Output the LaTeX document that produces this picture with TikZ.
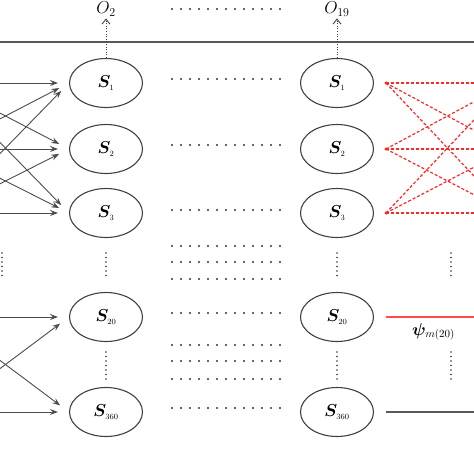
\documentclass[tikz,border=0pt]{standalone}
\usepackage{bm}
\usetikzlibrary{arrows.meta,calc,shapes.geometric}
\begin{document}
\begin{tikzpicture}[x=1pt,y=-1pt,
  state/.style={draw=black!75,line width=1.1pt,ellipse,minimum width=73pt,minimum height=49pt,inner sep=0pt,font=\fontsize{17}{17}\selectfont},
  obs/.style={font=\fontsize{18}{18}\selectfont,inner sep=1pt},
  obsarrow/.style={draw=black!75,line width=0.9pt,dash pattern=on 1pt off 1.6pt,-{Straight Barb[length=5pt,width=8pt,line width=0.9pt]}},
  inarrow/.style={draw=black!70,line width=0.9pt,-{Stealth[length=8pt,width=6pt,inset=3pt]},shorten >=11pt},
  redlink/.style={draw=red!85,line width=1.2pt,dash pattern=on 3pt off 2pt},
  reddot/.style={circle,fill=red!85,inner sep=0pt,minimum size=3.5pt},
  hdots/.style={draw=black!80,line width=2.2pt,line cap=round,dash pattern=on 0pt off 9pt},
  vdots/.style={draw=black!80,line width=1.6pt,line cap=round,dash pattern=on 0pt off 4.5pt},
  plain/.style={draw=black!65,line width=1.1pt}]
\useasboundingbox (0,0) rectangle (474,474);
\begin{scope}
\clip (0,0) rectangle (474,474);
% top separator
\coordinate (tl) at (0,42);
\coordinate (tr) at (474,42);
\draw[plain] (tl) -- (tr);
% states
\foreach \c/\x in {a/106,b/337}{
  \node[state] (\c1) at (\x,83) {$\bm{S}_{\scriptscriptstyle 1}$};
  \node[state] (\c2) at (\x,149) {$\bm{S}_{\scriptscriptstyle 2}$};
  \node[state] (\c3) at (\x,213) {$\bm{S}_{\scriptscriptstyle 3}$};
  \node[state] (\c20) at (\x,317) {$\bm{S}_{\scriptscriptstyle 20}$};
  \node[state] (\c360) at (\x,412) {$\bm{S}_{\scriptscriptstyle 360}$};
}
% observations
\node[obs] (o2) at (106,9) {$O_2$};
\node[obs] (o19) at (337,9) {$O_{19}$};
\draw[obsarrow] (a1.north) -- ($(o2.south)+(0,1)$);
\draw[obsarrow] (b1.north) -- ($(o19.south)+(0,1)$);
% previous column sources (off picture)
\foreach \n/\y in {1/83,2/149,3/213,20/317,360/412}{
  \coordinate (p\n) at (-58,\y);
  \coordinate (r\n) at (386,\y);
  \coordinate (q\n) at (509,\y);
}
\foreach \i in {1,2,3}{
  \foreach \j in {1,2,3}{
    \draw[inarrow] (p\i) -- (a\j.west);
    \draw[redlink] (r\i) -- (q\j);
  }
  \node[reddot] (rd\i) at (r\i) {};
}
\foreach \i in {20,360}{
  \foreach \j in {20,360}{
    \draw[inarrow] (p\i) -- (a\j.west);
  }
}
% right side lines
\coordinate (e20) at (474,317);
\coordinate (e360) at (474,412);
\draw[draw=red!70,line width=1.4pt] (r20) -- (e20);
\draw[plain] (r360) -- (e360);
\node[anchor=west,inner sep=0pt,font=\fontsize{16}{16}\selectfont] (psi) at (412,332) {$\bm{\psi}_{\scriptstyle m(20)}$};
% horizontal dotted rows between columns
\foreach \y in {9,79,145,210,246,262,279,313,345,361,379,408}{
  \draw[hdots] (172,\y) -- (282,\y);
}
% vertical dotted gaps
\foreach \x in {2,106,337,451}{
  \draw[vdots] (\x,253) -- (\x,280);
}
\foreach \x in {106,337,451}{
  \draw[vdots] (\x,352) -- (\x,380);
}
\end{scope}
\end{tikzpicture}
\end{document}
